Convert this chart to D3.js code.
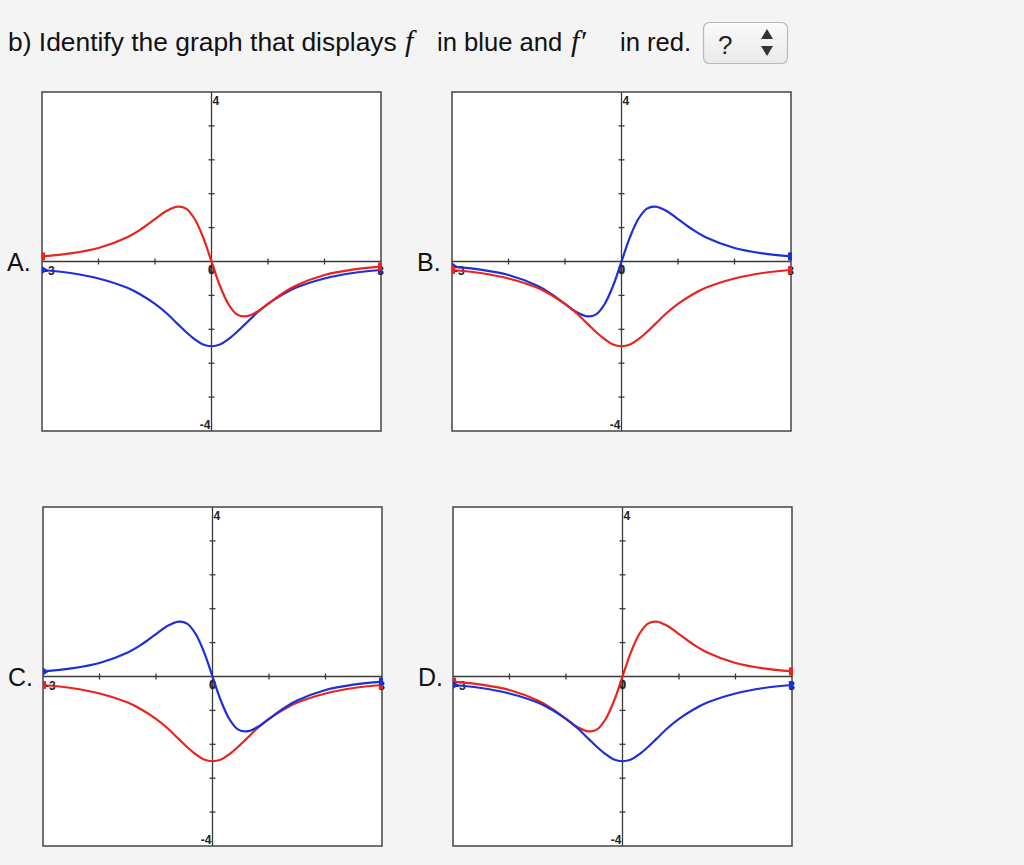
<!DOCTYPE html>
<html>
<head>
<meta charset="utf-8">
<script src="https://cdn.jsdelivr.net/npm/d3@7"></script>
<style>
  body { margin: 0; background: #f4f4f4; }
  svg { display: block; }
</style>
</head>
<body>
<svg id="chart" width="1024" height="865"></svg>
<script>
// sample points, x from -3 to 3
var xs = [-3, -2.5, -2, -1.5, -1.25, -1, -0.8, -0.6, -0.45, -0.3, -0.15, 0, 0.15, 0.3, 0.45, 0.6, 0.8, 1, 1.25, 1.5, 2, 2.5, 3];
// bell shaped curve (dips to -2.5 at 0)
var bellVals = [-0.25, -0.34, -0.5, -0.77, -0.98, -1.25, -1.52, -1.84, -2.08, -2.29, -2.45, -2.5, -2.45, -2.29, -2.08, -1.84, -1.52, -1.25, -0.98, -0.77, -0.5, -0.34, -0.25];
// s-shaped curve, peak +1.62 near x=0.6
var riseVals = [-0.15, -0.24, -0.4, -0.71, -0.95, -1.25, -1.49, -1.62, -1.56, -1.26, -0.72, 0, 0.72, 1.26, 1.56, 1.62, 1.49, 1.25, 0.95, 0.71, 0.4, 0.24, 0.15];
// mirrored s-shaped curve, peak +1.62 near x=-0.6
var fallVals = [0.15, 0.24, 0.4, 0.71, 0.95, 1.25, 1.49, 1.62, 1.56, 1.26, 0.72, 0, -0.72, -1.26, -1.56, -1.62, -1.49, -1.25, -0.95, -0.71, -0.4, -0.24, -0.15];

var panelLabels = ["A.", "B.", "C.", "D."];
var blueSeries = [bellVals, riseVals, fallVals, bellVals];
var redSeries = [fallVals, bellVals, bellVals, riseVals];
var xTicks = [-2, -1, 1, 2];
var yTicks = [-4, -3, -2, -1, 1, 2, 3, 4];

var svg = d3.select("#chart");
var BLUE = "#1f2fd6", RED = "#e8241f", AXIS = "#3a3a3a";
var SANS = "Liberation Sans, Arial, sans-serif";
var SERIF = "Liberation Serif, serif";

// title, in pieces so the math f's sit where they do in the original
var titleParts = [
  [8, "b) Identify the graph that displays", SANS, "normal", 26.4],
  [405, "f", SERIF, "italic", 30],
  [437, "in blue and", SANS, "normal", 25.6],
  [571, "f\u2032", SERIF, "italic", 30],
  [620, "in red.", SANS, "normal", 25.6]
];
titleParts.forEach(function(p) {
  svg.append("text").attr("x", p[0]).attr("y", 51)
    .attr("font-family", p[2]).attr("font-style", p[3]).attr("font-size", p[4])
    .attr("fill", "#111").text(p[1]);
});

// dropdown
var grad = svg.append("defs").append("linearGradient")
  .attr("id", "btn").attr("x1", 0).attr("y1", 0).attr("x2", 0).attr("y2", 1);
grad.append("stop").attr("offset", "0%").attr("stop-color", "#fbfbfb");
grad.append("stop").attr("offset", "100%").attr("stop-color", "#e9e9e9");
svg.append("rect")
  .attr("x", 703.5).attr("y", 22.5).attr("width", 84).attr("height", 41).attr("rx", 6)
  .attr("fill", "url(#btn)").attr("stroke", "#b9b9b9").attr("stroke-width", 1.2);
svg.append("text").attr("x", 718).attr("y", 54)
  .attr("font-family", SANS).attr("font-size", 26)
  .attr("fill", "#222").text("?");
svg.append("path").attr("d", "M767,29 L773,39 L761,39 Z").attr("fill", "#333");
svg.append("path").attr("d", "M767,56 L773,46 L761,46 Z").attr("fill", "#333");

var panelX = [42, 452, 43, 453];
var panelY = [92, 92, 507, 507];
var size = 339;

for (var i = 0; i < 4; i++) {
  var g = svg.append("g").attr("transform", "translate(" + panelX[i] + "," + panelY[i] + ")");
  var x = d3.scaleLinear().domain([-3, 3]).range([0, size]);
  var y = d3.scaleLinear().domain([-5, 5]).range([size, 0]);

  svg.append("text")
    .attr("x", panelX[i] - 35).attr("y", panelY[i] + y(0) + 9)
    .attr("font-family", SANS).attr("font-size", 25)
    .attr("fill", "#111").text(panelLabels[i]);

  g.append("rect").attr("width", size).attr("height", size)
    .attr("fill", "#fff").attr("stroke", "#444").attr("stroke-width", 1.5);

  // axes
  g.append("line").attr("x1", 0).attr("x2", size).attr("y1", y(0)).attr("y2", y(0))
    .attr("stroke", AXIS).attr("stroke-width", 1.3);
  g.append("line").attr("x1", x(0)).attr("x2", x(0)).attr("y1", 0).attr("y2", size)
    .attr("stroke", AXIS).attr("stroke-width", 1.3);
  g.selectAll(".xt").data(xTicks).enter().append("line")
    .attr("x1", function(d){return x(d)}).attr("x2", function(d){return x(d)})
    .attr("y1", y(0) - 3).attr("y2", y(0) + 3)
    .attr("stroke", AXIS).attr("stroke-width", 1.3);
  g.selectAll(".yt").data(yTicks).enter().append("line")
    .attr("x1", x(0) - 3).attr("x2", x(0) + 3)
    .attr("y1", function(d){return y(d)}).attr("y2", function(d){return y(d)})
    .attr("stroke", AXIS).attr("stroke-width", 1.3);

  // tick labels
  var lab = function(tx, ty, s, anchor) {
    return g.append("text").attr("x", tx).attr("y", ty).attr("text-anchor", anchor || "start")
      .attr("font-family", SANS).attr("font-weight", "bold")
      .attr("font-size", 12).attr("fill", "#222").text(s);
  };
  lab(x(0) + 1, 13, "4");
  lab(x(0) - 1, size - 2, "-4", "end");
  lab(x(-3) + 2, y(0) + 13, "-3");
  lab(x(3) + 3, y(0) + 13, "3", "end");
  lab(x(0), y(0) + 12, "0", "middle")
    .attr("stroke", "#222").attr("stroke-width", 0.6);

  var line = d3.line()
    .x(function(d, k){return x(xs[k])})
    .y(function(d){return y(d)})
    .curve(d3.curveCatmullRom);

  var series = [[redSeries[i], RED], [blueSeries[i], BLUE]];
  if (i == 1 || i == 3) series = [[blueSeries[i], BLUE], [redSeries[i], RED]];
  if (i == 0 || i == 3) series.reverse();
  series.forEach(function(s) {
    g.append("path").datum(s[0]).attr("d", line)
      .attr("fill", "none").attr("stroke", s[1]).attr("stroke-width", 2.2);
    var y0 = y(s[0][0]), y1 = y(s[0][s[0].length - 1]);
    if (s[1] == BLUE) {
      g.append("path").attr("d", "M" + x(-3) + "," + (y0 - 4) + " L" + (x(-3) + 6) + "," + y0 + " L" + x(-3) + "," + (y0 + 4) + " Z")
        .attr("fill", s[1]);
    } else {
      g.append("rect").attr("x", x(-3)).attr("y", y0 - 4).attr("width", 3).attr("height", 8).attr("fill", s[1]);
    }
    g.append("rect").attr("x", x(3) - 3).attr("y", y1 - 4).attr("width", 4).attr("height", 8).attr("fill", s[1]);
  });
}
</script>
</body>
</html>
